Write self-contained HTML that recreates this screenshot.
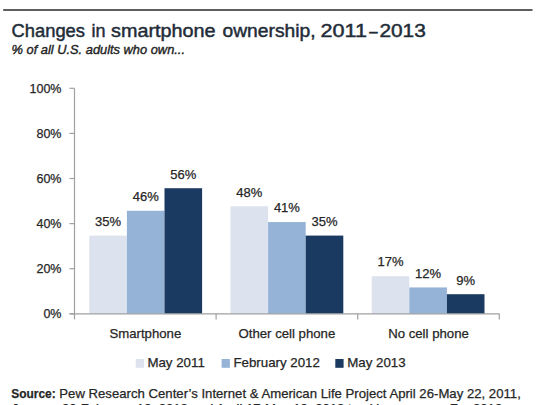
<!DOCTYPE html>
<html><head><meta charset="utf-8"><style>
html,body{margin:0;padding:0;background:#fff;width:540px;height:405px;overflow:hidden}
svg{display:block}
text{font-family:"Liberation Sans",sans-serif}
</style></head><body>
<svg width="540" height="405" viewBox="0 0 540 405">
<rect x="0" y="0" width="540" height="405" fill="#fff"/>
<line x1="3.2" y1="10" x2="532.5" y2="10" stroke="#5e5e5e" stroke-width="2"/>
<g font-size="18" fill="#222c38" stroke="#222c38" stroke-width="0.45">
<text x="11.50" y="36.9" textLength="73.50" lengthAdjust="spacingAndGlyphs">Changes</text><text x="91.60" y="36.9" textLength="14.00" lengthAdjust="spacingAndGlyphs">in</text><text x="111.10" y="36.9" textLength="104.50" lengthAdjust="spacingAndGlyphs">smartphone</text><text x="222.50" y="36.9" textLength="93.10" lengthAdjust="spacingAndGlyphs">ownership,</text><text x="320.50" y="36.9" textLength="46.50" lengthAdjust="spacingAndGlyphs">2011</text><text x="369.20" y="36.9" textLength="8.40" lengthAdjust="spacingAndGlyphs">–</text><text x="379.40" y="36.9" textLength="46.40" lengthAdjust="spacingAndGlyphs">2013</text>
</g>
<text x="11.5" y="53.9" font-size="13.5" font-style="italic" fill="#222" stroke="#222" stroke-width="0.4" textLength="173.5" lengthAdjust="spacingAndGlyphs">% of all U.S. adults who own...</text>
<rect x="89.30" y="235.58" width="37.60" height="78.22" fill="#dce3ee"/><text x="108.10" y="225.88" text-anchor="middle" font-size="13" fill="#262626" stroke="#262626" stroke-width="0.25">35%</text><rect x="126.90" y="210.77" width="37.60" height="103.03" fill="#95b3d7"/><text x="145.70" y="201.07" text-anchor="middle" font-size="13" fill="#262626" stroke="#262626" stroke-width="0.25">46%</text><rect x="164.50" y="188.22" width="37.60" height="125.58" fill="#1b3a62"/><text x="183.30" y="178.52" text-anchor="middle" font-size="13" fill="#262626" stroke="#262626" stroke-width="0.25">56%</text><text x="145.30" y="337.8" text-anchor="middle" font-size="13.2" fill="#262626" stroke="#262626" stroke-width="0.25">Smartphone</text><rect x="230.50" y="206.26" width="37.60" height="107.54" fill="#dce3ee"/><text x="249.30" y="196.56" text-anchor="middle" font-size="13" fill="#262626" stroke="#262626" stroke-width="0.25">48%</text><rect x="268.10" y="222.05" width="37.60" height="91.75" fill="#95b3d7"/><text x="286.90" y="212.35" text-anchor="middle" font-size="13" fill="#262626" stroke="#262626" stroke-width="0.25">41%</text><rect x="305.70" y="235.58" width="37.60" height="78.22" fill="#1b3a62"/><text x="324.50" y="225.88" text-anchor="middle" font-size="13" fill="#262626" stroke="#262626" stroke-width="0.25">35%</text><text x="286.90" y="337.8" text-anchor="middle" font-size="13.2" fill="#262626" stroke="#262626" stroke-width="0.25">Other cell phone</text><rect x="371.70" y="276.17" width="37.60" height="37.63" fill="#dce3ee"/><text x="390.50" y="266.47" text-anchor="middle" font-size="13" fill="#262626" stroke="#262626" stroke-width="0.25">17%</text><rect x="409.30" y="287.44" width="37.60" height="26.36" fill="#95b3d7"/><text x="428.10" y="277.74" text-anchor="middle" font-size="13" fill="#262626" stroke="#262626" stroke-width="0.25">12%</text><rect x="446.90" y="294.21" width="37.60" height="19.59" fill="#1b3a62"/><text x="465.70" y="284.51" text-anchor="middle" font-size="13" fill="#262626" stroke="#262626" stroke-width="0.25">9%</text><text x="428.50" y="337.8" text-anchor="middle" font-size="13.2" fill="#262626" stroke="#262626" stroke-width="0.25">No cell phone</text><text x="61.5" y="318.40" text-anchor="end" font-size="12.5" fill="#262626" stroke="#262626" stroke-width="0.25">0%</text><text x="61.5" y="273.30" text-anchor="end" font-size="12.5" fill="#262626" stroke="#262626" stroke-width="0.25">20%</text><text x="61.5" y="228.20" text-anchor="end" font-size="12.5" fill="#262626" stroke="#262626" stroke-width="0.25">40%</text><text x="61.5" y="183.10" text-anchor="end" font-size="12.5" fill="#262626" stroke="#262626" stroke-width="0.25">60%</text><text x="61.5" y="138.00" text-anchor="end" font-size="12.5" fill="#262626" stroke="#262626" stroke-width="0.25">80%</text><text x="61.5" y="92.90" text-anchor="end" font-size="12.5" fill="#262626" stroke="#262626" stroke-width="0.25">100%</text>
<g stroke="#a0a0a0" stroke-width="1.2" fill="none">
<line x1="74.5" y1="88.3" x2="74.5" y2="319.4"/>
<line x1="69.5" y1="313.8" x2="499.3" y2="313.8"/>
<line x1="69.5" y1="313.80" x2="74.5" y2="313.80"/><line x1="69.5" y1="268.70" x2="74.5" y2="268.70"/><line x1="69.5" y1="223.60" x2="74.5" y2="223.60"/><line x1="69.5" y1="178.50" x2="74.5" y2="178.50"/><line x1="69.5" y1="133.40" x2="74.5" y2="133.40"/><line x1="69.5" y1="88.30" x2="74.5" y2="88.30"/><line x1="216.10" y1="313.8" x2="216.10" y2="319.4"/><line x1="357.70" y1="313.8" x2="357.70" y2="319.4"/><line x1="499.30" y1="313.8" x2="499.30" y2="319.4"/>
</g>
<g font-size="13.3" fill="#262626" stroke="#262626" stroke-width="0.25">
<rect x="135.7" y="359" width="8.3" height="8.8" fill="#dce3ee" stroke="none"/>
<text x="147.4" y="367.4">May 2011</text>
<rect x="221.6" y="359" width="8.3" height="8.8" fill="#95b3d7" stroke="none"/>
<text x="233.4" y="367.4">February 2012</text>
<rect x="335.3" y="359" width="8.3" height="8.8" fill="#1b3a62" stroke="none"/>
<text x="347.2" y="367.4">May 2013</text>
<text x="11.2" y="397.8" font-size="13" font-weight="bold" textLength="44.5" lengthAdjust="spacingAndGlyphs">Source:</text><text x="59.3" y="397.8" font-size="13" textLength="461.5" lengthAdjust="spacingAndGlyphs">Pew Research Center’s Internet &amp; American Life Project April 26-May 22, 2011,</text>
<text x="11.7" y="412.6" font-size="13" textLength="490.5" lengthAdjust="spacingAndGlyphs">January 20-February 19, 2012 and April 17-May 19, 2013 tracking surveys. For 2013</text>
</g>
</svg>
</body></html>
